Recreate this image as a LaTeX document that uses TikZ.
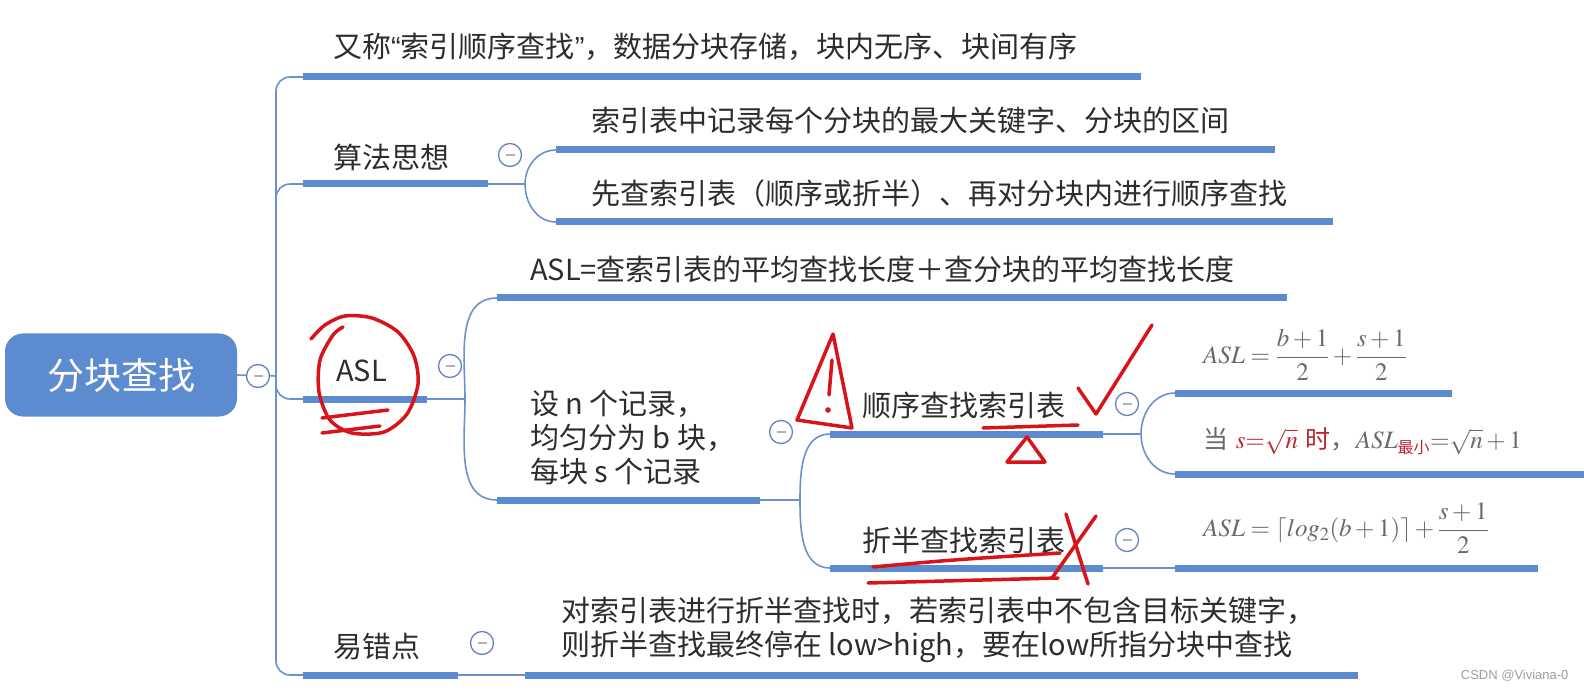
\documentclass[tikz,border=0pt]{standalone}
\usepackage{mathptmx}
\usepackage{fontspec}
\newfontfamily\cjk{Noto Sans CJK SC}
\newfontfamily\wmfont{Liberation Sans}
\definecolor{barblue}{RGB}{92,139,207}
\definecolor{linkblue}{RGB}{108,146,206}
\definecolor{foldblue}{RGB}{100,130,190}
\definecolor{textgray}{RGB}{45,45,45}
\definecolor{mathgray}{RGB}{105,105,105}
\definecolor{mathred}{RGB}{185,40,45}
\definecolor{inkred}{RGB}{215,20,25}

\begin{document}
\begin{tikzpicture}[x=1pt, y=-1pt,
                rootnode/.style={rectangle, rounded corners=18pt, fill=barblue, text=white, font=\cjk\fontsize{37}{40}\selectfont, minimum width=232pt, minimum height=83pt},
                bar/.style={rectangle, fill=barblue, minimum height=7pt, inner sep=0pt, anchor=west},
                topic/.style={anchor=west, inner sep=0pt, align=left, text=textgray, font=\cjk\fontsize{29}{34}\selectfont},
                formula/.style={anchor=west, inner sep=0pt, text=mathgray, font=\fontsize{25}{30}\selectfont},
                fold/.style={circle, draw=foldblue, line width=1.3pt, fill=white, minimum size=23pt, inner sep=0pt,
                             path picture={\draw[gray!60, line width=1.6pt] ([xshift=-4.5pt]path picture bounding box.center) -- ([xshift=4.5pt]path picture bounding box.center);}},
                link/.style={draw=linkblue, line width=1.6pt},
                ink/.style={draw=inkred, line width=3.5pt, line cap=round, line join=round}
                ]
                \fill[white] (0,0) rectangle (1584,692);
                \useasboundingbox (0,0) rectangle (1584,692);

                %% Root
                \node[rootnode] (root) at (121,375) {分块查找};
                \coordinate (trunk) at (276,376);

                %% Bars
                \node[bar, minimum width=838pt] (b1) at (303,77) {};
                \node[bar, minimum width=185pt] (b2) at (303,184) {};
                \node[bar, minimum width=124pt] (b3) at (303,399) {};
                \node[bar, minimum width=155pt] (b4) at (303,675) {};

                \node[bar, minimum width=719pt] (b21) at (556,150) {};
                \node[bar, minimum width=777pt] (b22) at (556,222) {};
                \node[bar, minimum width=790pt] (b31) at (497,298) {};
                \node[bar, minimum width=263pt] (b32) at (497,500) {};
                \node[bar, minimum width=833pt] (b41) at (525,675) {};

                \node[bar, minimum width=273pt] (b321) at (830,434) {};
                \node[bar, minimum width=273pt] (b322) at (830,568) {};

                \node[bar, minimum width=277pt] (g1) at (1175,393) {};
                \node[bar, minimum width=409pt] (g2) at (1175,474) {};
                \node[bar, minimum width=363pt] (g3) at (1175,568) {};

                %% Connectors
                \coordinate (k2) at (525,184);
                \coordinate (k3) at (465,399);
                \coordinate (k32) at (800,500);
                \coordinate (k321) at (1141,434);

                \draw[link] (root.east) -- (trunk);
                \foreach \b in {b1,b2,b3,b4}
                    \draw[link, rounded corners=14pt] (trunk) |- (\b.west);

                \draw[link] (b2.east) -- (k2);
                \draw[link] (k2) to[out=90, in=180] (b21.west);
                \draw[link] (k2) to[out=-90, in=180] (b22.west);

                \draw[link] (b3.east) -- (k3);
                \draw[link] (k3) to[out=90, in=180] (b31.west);
                \draw[link] (k3) to[out=-90, in=180] (b32.west);

                \draw[link] (b32.east) -- (k32);
                \draw[link] (k32) to[out=90, in=180] (b321.west);
                \draw[link] (k32) to[out=-90, in=180] (b322.west);

                \draw[link] (b321.east) -- (k321);
                \draw[link] (k321) to[out=90, in=180] (g1.west);
                \draw[link] (k321) to[out=-90, in=180] (g2.west);

                \draw[link] (b322.east) -- (g3.west);
                \draw[link] (b4.east) -- (b41.west);

                %% Fold buttons
                \node[fold] (f0) at (258,376) {};
                \node[fold] (f2) at (510,155) {};
                \node[fold] (f3) at (450,366) {};
                \node[fold] (f32) at (781,432) {};
                \node[fold] (f321) at (1127,404) {};
                \node[fold] (f322) at (1127,540) {};
                \node[fold] (f4) at (482,643) {};

                %% Texts
                \node[topic] (t1) at ([shift={(30,-30)}]b1.west) {又称{\wmfont“}索引顺序查找{\wmfont”}，数据分块存储，块内无序、块间有序};
                \node[topic] (t2) at ([shift={(30,-27)}]b2.west) {算法思想};
                \node[topic] (t21) at ([shift={(35,-30)}]b21.west) {索引表中记录每个分块的最大关键字、分块的区间};
                \node[topic] (t22) at ([shift={(35,-29)}]b22.west) {先查索引表（顺序或折半）、再对分块内进行顺序查找};
                \node[topic] (t3) at ([shift={(33,-28)}]b3.west) {ASL};
                \node[topic] (t31) at ([shift={(33,-29)}]b31.west) {ASL=查索引表的平均查找长度＋查分块的平均查找长度};
                \node[topic] (t32) at ([shift={(33,-63)}]b32.west) {设 n 个记录，\\均匀分为 b 块，\\每块 s 个记录};
                \node[topic] (t321) at ([shift={(32,-29)}]b321.west) {顺序查找索引表};
                \node[topic] (t322) at ([shift={(32,-28)}]b322.west) {折半查找索引表};
                \node[topic] (t4) at ([shift={(30,-28)}]b4.west) {易错点};
                \node[topic] (t41) at ([shift={(36,-45)}]b41.west) {对索引表进行折半查找时，若索引表中不包含目标关键字，\\则折半查找最终停在 low>high，要在low所指分块中查找};

                \node[formula] (e1) at ([shift={(28,-38)}]g1.west) {$\displaystyle ASL=\frac{b+1}{2}+\frac{s+1}{2}$};
                \node[formula] (e2) at ([shift={(28,-33)}]g2.west) {{\cjk 当} \textcolor{mathred}{$s{=}\sqrt{n}$ {\cjk 时}}{\cjk ，}$ASL_{\mbox{\cjk\fontsize{16}{16}\selectfont\color{mathred}最小}}{=}\sqrt{n}+1$};
                \node[formula] (e3) at ([shift={(28,-40)}]g3.west) {$\displaystyle ASL=\lceil log_2(b+1)\rceil+\frac{s+1}{2}$};

                \node[anchor=east, text=gray!75, font=\wmfont\fontsize{13}{15}\selectfont] (mark) at (1572,676) {CSDN @Viviana-0};

                %% Handwritten marks
                \draw[ink] plot[smooth] coordinates {(311,339) (325,325) (345,316) (372,318) (398,332) (414,356) (418,384) (407,414) (384,432) (352,433) (330,420) (319,392) (320,360) (333,335) (343,327)};
                \draw[ink] (322,418) -- (388,410);
                \draw[ink] (322,433) -- (380,426);

                \draw[ink] (833,334) -- (797,420) -- (852,428) -- cycle;
                \draw[ink] (832,360) -- (829,395);
                \fill[inkred] (828,410) circle (2.8pt);

                \draw[ink] (983,428) -- (1078,425);
                \draw[ink] (1027,437) -- (1007,462) -- (1045,462) -- cycle;
                \draw[ink] (1078,388) -- (1096,414) -- (1152,325);

                \draw[ink] (873,567) .. controls (950,560) .. (1060,553);
                \draw[ink] (868,583) -- (1058,578);
                \draw[ink] (1066,514) -- (1088,584);
                \draw[ink] (1096,516) -- (1052,578);
\end{tikzpicture}
\end{document}
